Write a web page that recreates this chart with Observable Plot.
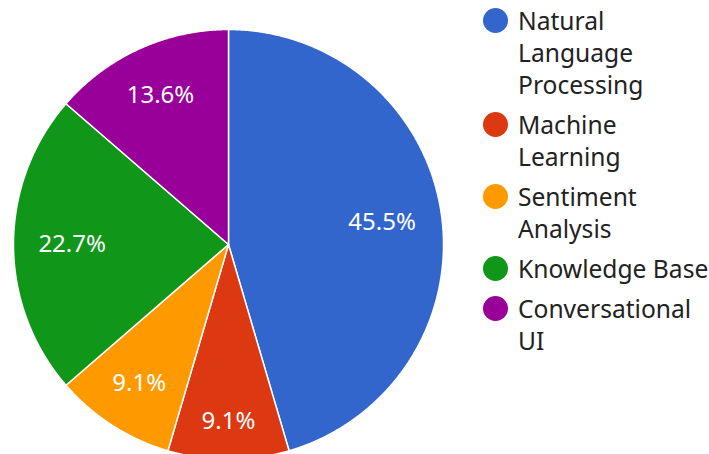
<!DOCTYPE html>
<html><head><meta charset="utf-8">
<script src="https://cdn.jsdelivr.net/npm/d3@7"></script>
<script src="https://cdn.jsdelivr.net/npm/@observablehq/plot@0.6"></script>
<style>
body{margin:0;background:#fff;overflow:hidden;font-family:'Noto Sans',sans-serif;}
#wrap{position:relative;width:709px;height:454px;}
#wrap svg{position:absolute;left:0;top:0;}
#legend{position:absolute;left:483px;top:4.5px;}
.item{display:flex;align-items:flex-start;margin-bottom:8px;}
.sw{width:25px;height:25px;border-radius:50%;margin-top:3.5px;flex:none;margin-right:10px;}
.lab{font-size:24.6px;line-height:32px;color:#222;width:194px;}
</style></head><body><div id="wrap"></div>
<script>
const categories = ["Natural Language Processing","Machine Learning","Sentiment Analysis","Knowledge Base","Conversational UI"];
const values = [10, 2, 2, 5, 3];
const colors = ["#3366cc","#dc3912","#ff9900","#109618","#990099"];

const W = 709, H = 454, CX = 228, CY = 244, RPX = 215;
const total = d3.sum(values);
const arcs = d3.pie().sort(null).value(d => d)(values);

// slice outlines in unit coordinates (y up)
const points = [];
arcs.forEach((a, i) => {
  const name = categories[i];
  points.push({name, x: 0, y: 0});
  const n = Math.max(2, Math.ceil((a.endAngle - a.startAngle) / 0.005));
  for (let k = 0; k <= n; k++) {
    const t = a.startAngle + (a.endAngle - a.startAngle) * k / n;
    points.push({name, x: Math.sin(t), y: Math.cos(t)});
  }
});

// label placement: box far corner at fixed radius
const ctx = document.createElement("canvas").getContext("2d");
ctx.font = "24px 'Noto Sans'";
const labels = arcs.map((a, i) => {
  const text = (values[i] / total * 100).toFixed(1) + "%";
  const m = (a.startAngle + a.endAngle) / 2;
  const p = ctx.measureText(text).width / 2, q = 12, R = 0.886 * RPX;
  const sa = Math.abs(Math.sin(m)), cb = Math.abs(Math.cos(m));
  const s = sa * p + cb * q;
  const d = -s + Math.sqrt(s * s - p * p - q * q + R * R);
  return {text, x: d * Math.sin(m) / RPX, y: d * Math.cos(m) / RPX};
});

const chart = Plot.plot({
  width: W, height: H,
  marginTop: 0, marginRight: 0, marginBottom: 0, marginLeft: 0,
  x: {domain: [-CX / RPX, (W - CX) / RPX], axis: null},
  y: {domain: [-(H - CY) / RPX, CY / RPX], axis: null},
  color: {domain: categories, range: colors},
  style: {background: "transparent", fontFamily: "'Noto Sans', sans-serif"},
  marks: [
    Plot.line(points, {x: "x", y: "y", z: "name", fill: "name", stroke: "white", strokeWidth: 1.5, curve: "linear-closed"}),
    Plot.text(labels, {x: "x", y: "y", text: "text", fill: "white", fontSize: 24, fontFamily: "'Noto Sans', sans-serif"})
  ]
});
const wrap = document.getElementById("wrap");
wrap.appendChild(chart);

const legend = d3.select(wrap).append("div").attr("id", "legend");
const items = legend.selectAll("div.item").data(categories).join("div").attr("class", "item");
items.append("div").attr("class", "sw").style("background", (d, i) => colors[i]);
items.append("div").attr("class", "lab").text(d => d);
</script></body></html>
